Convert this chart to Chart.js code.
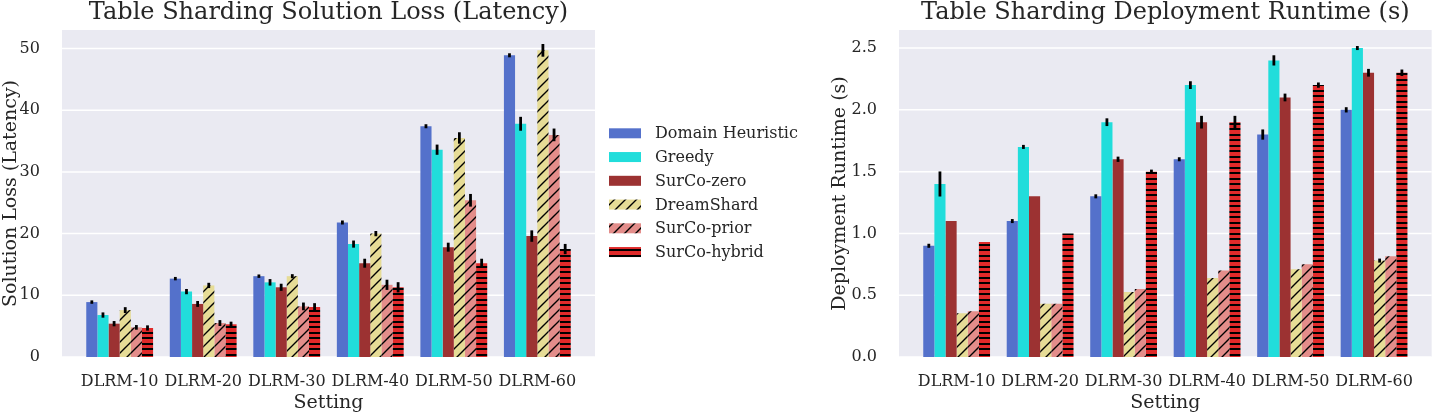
<!DOCTYPE html>
<html>
<head>
<meta charset="utf-8">
<script src="https://cdn.jsdelivr.net/npm/chart.js@4.4.0/dist/chart.umd.min.js"></script>
<style>
  body { margin: 0; background: #fff; width: 1435px; height: 415px; overflow: hidden; position: relative; }
  canvas { position: absolute; top: 0; }
  #lossChart { left: 0; }
  #runChart { left: 820px; }
</style>
</head>
<body>
<canvas id="lossChart" width="820" height="415" style="width:820px;height:415px"></canvas>
<canvas id="runChart" width="615" height="415" style="width:615px;height:415px"></canvas>
<script>
var settings = ["DLRM-10", "DLRM-20", "DLRM-30", "DLRM-40", "DLRM-50", "DLRM-60"];
var methods = ["Domain Heuristic", "Greedy", "SurCo-zero", "DreamShard", "SurCo-prior", "SurCo-hybrid"];

// solution loss (latency)
var lossDomain = [8.9, 12.7, 13.1, 21.8, 37.4, 48.9];
var lossGreedy = [6.8, 10.6, 12.1, 18.3, 33.6, 37.8];
var lossZero   = [5.4, 8.6, 11.3, 15.2, 17.8, 19.6];
var lossDream  = [7.6, 11.6, 13.1, 20.0, 35.5, 49.7];
var lossPrior  = [4.8, 5.5, 8.2, 11.7, 25.4, 36.0];
var lossHybrid = [4.7, 5.3, 8.1, 11.3, 15.2, 17.5];

var lossErrDomain = [0.05, 0.05, 0.05, 0.1, 0.1, 0.1];
var lossErrGreedy = [0.2, 0.2, 0.3, 0.35, 0.6, 0.9];
var lossErrZero   = [0.2, 0.25, 0.35, 0.5, 0.5, 0.7];
var lossErrDream  = [0.25, 0.2, 0.1, 0.2, 0.7, 0.8];
var lossErrPrior  = [0.15, 0.25, 0.4, 0.6, 0.8, 0.8];
var lossErrHybrid = [0.2, 0.2, 0.4, 0.6, 0.5, 0.6];

// deployment runtime (s)
var runDomain = [0.90, 1.10, 1.30, 1.60, 1.80, 2.00];
var runGreedy = [1.40, 1.70, 1.90, 2.20, 2.40, 2.50];
var runZero   = [1.10, 1.30, 1.60, 1.90, 2.10, 2.30];
var runDream  = [0.355, 0.43, 0.525, 0.64, 0.71, 0.78];
var runPrior  = [0.37, 0.43, 0.55, 0.70, 0.75, 0.815];
var runHybrid = [0.93, 1.00, 1.50, 1.90, 2.20, 2.30];

var runErrDomain = [0.005, 0.005, 0.005, 0.005, 0.03, 0.01];
var runErrGreedy = [0.09, 0.005, 0.02, 0.02, 0.03, 0.005];
var runErrZero   = [0, 0, 0.01, 0.04, 0.02, 0.02];
var runErrDream  = [0, 0, 0, 0, 0, 0.005];
var runErrPrior  = [0, 0, 0, 0, 0, 0];
var runErrHybrid = [0, 0, 0.005, 0.04, 0.01, 0.015];

var lossTicks = [0, 10, 20, 30, 40, 50];
var runTicks = [0.0, 0.5, 1.0, 1.5, 2.0, 2.5];

Chart.defaults.font.family = "'DejaVu Serif'";
Chart.defaults.color = "#262626";

function diagHatch(bg) {
  var s = 11, c = document.createElement("canvas");
  c.width = s; c.height = s;
  var g = c.getContext("2d");
  g.fillStyle = bg;
  g.fillRect(0, 0, s, s);
  g.strokeStyle = "#000";
  g.lineWidth = 1.4;
  g.beginPath();
  g.moveTo(-1, s + 1); g.lineTo(s + 1, -1);
  g.moveTo(-2, 2); g.lineTo(2, -2);
  g.moveTo(s - 2, s + 2); g.lineTo(s + 2, s - 2);
  g.stroke();
  return g.createPattern(c, "repeat");
}

function lineHatch(bg) {
  var c = document.createElement("canvas");
  c.width = 4; c.height = 11;
  var g = c.getContext("2d");
  g.fillStyle = bg;
  g.fillRect(0, 0, 4, 11);
  g.fillStyle = "#000";
  g.fillRect(0, 2, 4, 2);
  g.fillRect(0, 7, 4, 2);
  return g.createPattern(c, "repeat");
}

var fills = ["#5471CB", "#21DDDB", "#9C3232", diagHatch("#E6DC96"), diagHatch("#E38D8A"), lineHatch("#E02A2A")];

// grey panel, white grid and the title, drawn under everything
var panel = {
  id: "panel",
  beforeDraw: function (chart, args, opts) {
    var a = chart.chartArea, ctx = chart.ctx, y = chart.scales.y;
    var ext = 0.19 * a.width / chart.data.labels.length;
    ctx.save();
    ctx.fillStyle = "#EAEAF2";
    ctx.fillRect(a.left - ext, a.top, a.width + 2 * ext, a.bottom - a.top);
    ctx.strokeStyle = "#fff";
    ctx.lineWidth = 1.5;
    y.ticks.forEach(function (t) {
      var py = y.getPixelForValue(t.value);
      ctx.beginPath();
      ctx.moveTo(a.left - ext, py);
      ctx.lineTo(a.right + ext, py);
      ctx.stroke();
    });
    ctx.fillStyle = "#262626";
    ctx.font = "24px 'DejaVu Serif'";
    ctx.textAlign = "center";
    ctx.textBaseline = "alphabetic";
    ctx.fillText(opts.title, (a.left + a.right) / 2, 19);
    ctx.restore();
  }
};

var errorBars = {
  id: "errorBars",
  afterDatasetsDraw: function (chart) {
    var ctx = chart.ctx, y = chart.scales.y;
    ctx.save();
    ctx.strokeStyle = "#000";
    ctx.lineWidth = 2.8;
    ctx.lineCap = "square";
    chart.data.datasets.forEach(function (ds, i) {
      chart.getDatasetMeta(i).data.forEach(function (bar, j) {
        var e = ds.errors[j];
        if (!e) return;
        ctx.beginPath();
        ctx.moveTo(bar.x, y.getPixelForValue(ds.data[j] - e));
        ctx.lineTo(bar.x, y.getPixelForValue(ds.data[j] + e));
        ctx.stroke();
      });
    });
    ctx.restore();
  }
};

var legendBox = {
  id: "legendBox",
  afterDraw: function (chart, args, opts) {
    if (!opts.show) return;
    var ctx = chart.ctx;
    ctx.save();
    ctx.font = "16px 'DejaVu Serif'";
    ctx.textBaseline = "middle";
    ctx.textAlign = "left";
    chart.data.datasets.forEach(function (ds, i) {
      var cy = 133.3 + i * 23.75;
      ctx.fillStyle = ds.backgroundColor;
      ctx.fillRect(609, cy - 5, 32, 10);
      ctx.fillStyle = "#262626";
      ctx.fillText(ds.label, 655, cy + 1);
    });
    ctx.restore();
  }
};

function makeChart(id, title, yTitle, series, errs, ticks, ymax, digits, areaLeft, padRight, yTitlePad, showLegend) {
  return new Chart(document.getElementById(id), {
    type: "bar",
    data: {
      labels: settings,
      datasets: series.map(function (vals, i) {
        return {
          label: methods[i],
          data: vals,
          errors: errs[i],
          backgroundColor: fills[i],
          borderWidth: 0,
          categoryPercentage: 0.8,
          barPercentage: 1.0
        };
      })
    },
    options: {
      responsive: false,
      animation: false,
      events: [],
      layout: { padding: { top: 30, right: padRight, left: 0, bottom: 0 } },
      plugins: {
        legend: { display: false },
        tooltip: { enabled: false },
        panel: { title: title },
        legendBox: { show: showLegend }
      },
      scales: {
        x: {
          grid: { display: false },
          border: { display: false },
          ticks: { font: { size: 16 }, padding: 7, maxRotation: 0 },
          title: { display: true, text: "Setting", font: { size: 19 }, padding: { top: 0, bottom: 1 } },
          afterFit: function (s) {
            s.height = 58;
            s.paddingLeft = 0; s.paddingRight = 0;
          }
        },
        y: {
          min: 0,
          max: ymax,
          grid: { display: false },
          border: { display: false },
          afterBuildTicks: function (s) { s.ticks = ticks.map(function (v) { return { value: v }; }); },
          ticks: {
            font: { size: 16 },
            padding: 30,
            callback: function (v) { return Number(v).toFixed(digits); }
          },
          title: { display: true, text: yTitle, font: { size: 19 }, padding: { top: yTitlePad, bottom: 0 } },
          afterFit: function (s) {
            s.width = areaLeft;
            s.paddingTop = 0; s.paddingBottom = 0;
          }
        }
      }
    },
    plugins: [panel, errorBars, legendBox]
  });
}

makeChart("lossChart", "Table Sharding Solution Loss (Latency)", "Solution Loss (Latency)",
  [lossDomain, lossGreedy, lossZero, lossDream, lossPrior, lossHybrid],
  [lossErrDomain, lossErrGreedy, lossErrZero, lossErrDream, lossErrPrior, lossErrHybrid],
  lossTicks, 53.0, 0, 77.9, 240.9, 0, true);

makeChart("runChart", "Table Sharding Deployment Runtime (s)", "Deployment Runtime (s)",
  [runDomain, runGreedy, runZero, runDream, runPrior, runHybrid],
  [runErrDomain, runErrGreedy, runErrZero, runErrDream, runErrPrior, runErrHybrid],
  runTicks, 2.646, 1, 94.9, 19.2, 9, false);
</script>
</body>
</html>
